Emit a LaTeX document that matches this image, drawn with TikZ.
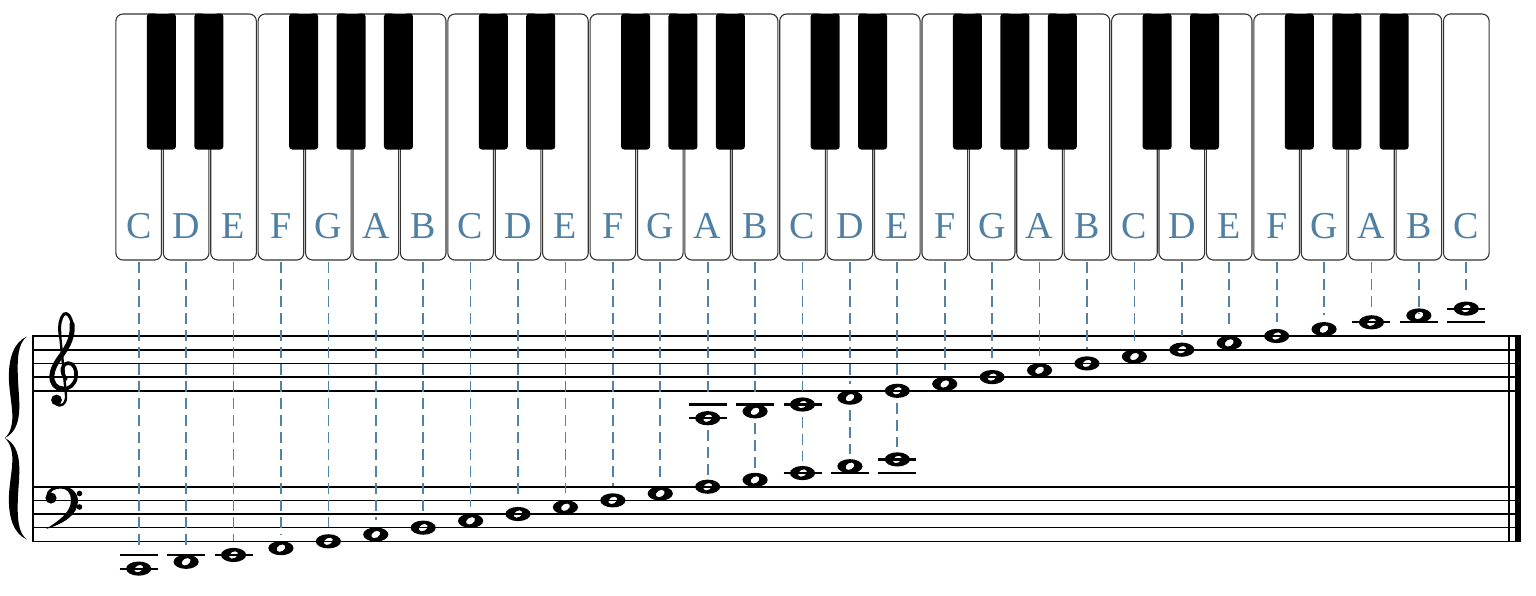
\documentclass[tikz,border=0pt]{standalone}
\usepackage{fontspec}
\setmainfont{Liberation Serif}
\definecolor{keyblue}{HTML}{4F7FA3}
\definecolor{guideblue}{HTML}{5283A6}
\definecolor{keyedge}{HTML}{333333}
\tikzset{
  whitekey/.style={draw=keyedge, line width=1.1pt, fill=white, rounded corners=7pt,
    minimum width=45.6pt, minimum height=246pt, inner sep=0pt, outer sep=0pt, anchor=north},
  blackkey/.style={fill=black, rounded corners=3pt, minimum width=29pt,
    minimum height=136pt, inner sep=0pt, outer sep=0pt, anchor=north},
  keylabel/.style={text=keyblue, font=\fontsize{38}{40}\selectfont, anchor=base, inner sep=0pt},
  guide/.style={draw=guideblue, line width=1.7pt, dash pattern=on 11pt off 6pt},
  staffline/.style={line width=1.6pt},
  ledger/.style={line width=2.2pt},
  clefstroke/.style={line cap=round, line join=round},
  wnote/.pic={\fill[even odd rule] (0,0) ellipse [x radius=12.6, y radius=7.1]
     {[rotate=30] (0,0) ellipse [x radius=4.8, y radius=3.3]};}
}
\begin{document}
\begin{tikzpicture}[x=1pt,y=-1pt]
\useasboundingbox (0,0) rectangle (1536,595);
% white keys
\foreach \i/\l in {0/C,1/D,2/E,3/F,4/G,5/A,6/B,7/C,8/D,9/E,10/F,11/G,12/A,13/B,
  14/C,15/D,16/E,17/F,18/G,19/A,20/B,21/C,22/D,23/E,24/F,25/G,26/A,27/B,28/C}{
  \pgfmathsetmacro\xc{115+47.4138*(\i+0.5)}
  \node[whitekey] (w\i) at (\xc,14) {};
  \node[keylabel] (l\i) at (\xc,238.5) {\l};
}
% black keys
\foreach \i in {0,1,3,4,5,7,8,10,11,12,14,15,17,18,19,21,22,24,25,26}{
  \pgfmathsetmacro\xb{115+47.4138*(\i+1)-1}
  \node[blackkey] (b\i) at (\xb,13.5) {};
}
% staves
\foreach \y in {336,349.7,363.4,377.1,390.8}{\draw[staffline] (33,\y) -- (1520,\y);}
\foreach \y in {486.7,500.35,514,527.65,541.3}{\draw[staffline] (33,\y) -- (1520,\y);}
\draw[line width=2.8pt] (33,335.2) -- (33,542.1);
\draw[line width=1.6pt] (1509,335.2) -- (1509,542.1);
\fill (1514.5,335.2) rectangle (1520.5,542.1);
% brace
\fill (27,336.5) .. controls (14,342) and (8,358) .. (9,381) .. controls (10,403) and (18,425) .. (5,438)
  .. controls (24,428) and (19,402) .. (18,380) .. controls (17,358) and (18,343) .. (27,336.5) -- cycle;
\fill (27,539.5) .. controls (14,534) and (8,518) .. (9,495) .. controls (10,473) and (18,451) .. (5,438)
  .. controls (24,448) and (19,474) .. (18,496) .. controls (17,518) and (18,533) .. (27,539.5) -- cycle;
% treble clef
\draw[clefstroke, line width=3.6pt] (66,379) .. controls (60,372) and (62,363) .. (68,363)
  .. controls (74,363) and (77,370) .. (76,377) .. controls (75,385) and (69,389) .. (63,389);
\draw[clefstroke, line width=5pt] (63,389) .. controls (56,389) and (51,383) .. (52,375)
  .. controls (53,365) and (60,358) .. (65,350) .. controls (70,342) and (73,334) .. (72,324);
\draw[clefstroke, line width=3pt] (72,324) .. controls (71,316) and (67,312) .. (64,314)
  .. controls (60,318) and (59,326) .. (60,334);
\draw[clefstroke, line width=2.4pt] (60,334) -- (66,395) .. controls (67,404) and (60,408) .. (56,404);
\fill (56.5,400) circle (5.4);
% bass clef
\fill (46.5,496) .. controls (46.5,488.5) and (54,486) .. (61,486) .. controls (71.5,486) and (78,493) .. (78,501)
  .. controls (78,515) and (63,524) .. (46,529)
  .. controls (60,520) and (71,512) .. (71,500) .. controls (71,493) and (67,488.5) .. (61,488.5)
  .. controls (55,488.5) and (50,491) .. (49,496) -- cycle;
\fill (51,498) circle (5.6);
\fill (79.5,493.5) circle (2.8);
\fill (79.5,507) circle (2.8);
% note coordinates
\foreach \i in {0,...,16}{
  \pgfmathsetmacro\xc{115+47.4138*(\i+0.5)}
  \pgfmathsetmacro\yb{541.3-(\i-4)*6.825}
  \coordinate (s\i) at (\xc,\yb);
}
\foreach \i in {12,...,28}{
  \pgfmathsetmacro\xc{115+47.4138*(\i+0.5)}
  \pgfmathsetmacro\yt{390.8-(\i-16)*6.85}
  \coordinate (t\i) at (\xc,\yt);
}
% guide end points
\foreach \i in {0,...,11}{
  \pgfmathsetmacro\xc{115+47.4138*(\i+0.5)}
  \pgfmathsetmacro\ye{ifthenelse(\i<2,547,541.3-(\i-4)*6.825-14)}
  \coordinate (e\i) at (\xc,\ye);
}
\foreach \i in {12,...,28}{
  \pgfmathsetmacro\xc{115+47.4138*(\i+0.5)}
  \pgfmathsetmacro\ye{ifthenelse(\i<14,396.5,ifthenelse(\i==27,314.3,390.8-(\i-16)*6.85-14))}
  \coordinate (e\i) at (\xc,\ye);
}
% dashed guides
\foreach \i in {0,...,28}{\draw[guide] ([yshift=-2pt]w\i.south) -- (e\i);}
\foreach \i in {12,...,16}{\draw[guide] ([yshift=-12pt]t\i) -- ([yshift=12pt]s\i);}
% ledger lines
\foreach \i/\y in {0/554.95,0/568.6,1/554.95,2/554.95,14/473.05,15/473.05,16/473.05,16/459.4,
  12/404.5,12/418.2,13/404.5,14/404.5,26/322.3,27/322.3,28/322.3,28/308.6}{
  \pgfmathsetmacro\xc{115+47.4138*(\i+0.5)}
  \draw[ledger] (\xc-19,\y) -- (\xc+19,\y);
}
% notes
\foreach \i in {0,...,16}{\pic at (s\i) {wnote};}
\foreach \i in {12,...,28}{\pic at (t\i) {wnote};}
\end{tikzpicture}
\end{document}
